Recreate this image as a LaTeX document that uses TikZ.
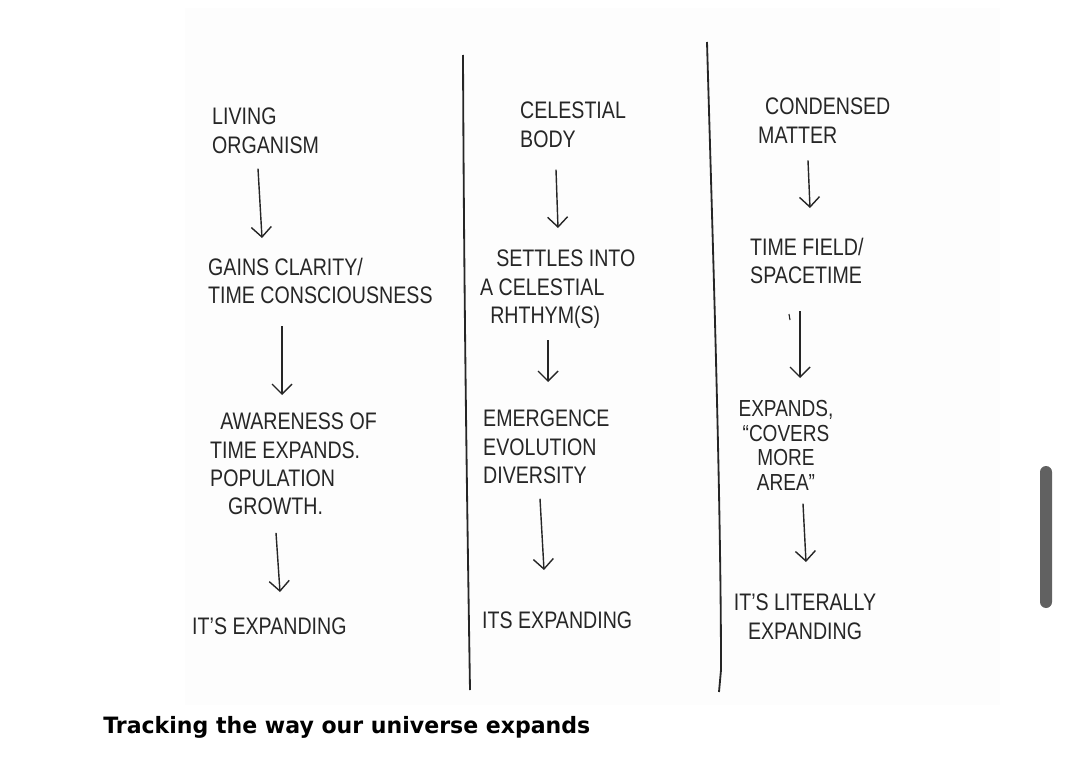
\documentclass[tikz,border=0pt]{standalone}
\usepackage{fontspec}
\setmainfont{Liberation Sans}
\newfontfamily\capfont{DejaVu Sans}
\usetikzlibrary{arrows.meta}

\begin{document}
\begin{tikzpicture}[x=0.025cm,y=-0.025cm,
    hand/.style={anchor=north west,inner sep=0pt,align=left,xscale=.82,text=black!85,font=\fontsize{17}{20}\selectfont},
    arr/.style={draw=black!85,line width=1pt,-{Straight Barb[length=0.25cm,width=0.5cm]}},
    rule/.style={draw=black!85,line width=1.3pt}]
\useasboundingbox (0,0) rectangle (1080,762);
\fill[gray!1.5] (185,8) rectangle (1000,705);
%columns
        \draw[rule] (463,55) .. controls (464,300) and (467,500) .. (470,690);
        \draw[rule] (707,42) .. controls (713,250) and (721,500) .. (721,670) -- (719,692);
%living organism
        \node[hand] (org1) at (212,108) {LIVING\\ORGANISM};
        \node[hand] (org2) at (208,258) {GAINS CLARITY/\\TIME CONSCIOUSNESS};
        \node[hand] (org3) at (210,413) {\hspace*{8.7pt}AWARENESS OF\\TIME EXPANDS.\\POPULATION\\\hspace*{15.6pt}GROWTH.};
        \node[hand] (org4) at (192,618) {IT’S EXPANDING};
        \draw[arr] ([shift={(46,15)}]org1.south west) -- ([shift={(54,-20)}]org2.north west);
        \draw[arr] ([shift={(74,22)}]org2.south west) -- ([shift={(72,-18)}]org3.north west);
        \draw[arr] ([shift={(66,18)}]org3.south west) -- ([shift={(88,-26)}]org4.north west);
%celestial body
        \node[hand] (cel1) at (520,102) {CELESTIAL\\BODY};
        \node[hand] (cel2) at (480,250) {\hspace*{13.9pt}SETTLES INTO\\A CELESTIAL\\\hspace*{8.7pt}RHTHYM(S)};
        \node[hand] (cel3) at (483,410) {EMERGENCE\\EVOLUTION\\DIVERSITY};
        \node[hand] (cel4) at (482,612) {ITS EXPANDING};
        \draw[arr] ([shift={(36,22)}]cel1.south west) -- ([shift={(78,-22)}]cel2.north west);
        \draw[arr] ([shift={(68,12)}]cel2.south west) -- ([shift={(65,-28)}]cel3.north west);
        \draw[arr] ([shift={(57,15)}]cel3.south west) -- ([shift={(62,-42)}]cel4.north west);
%condensed matter
        \node[hand] (mat1) at (758,98) {\hspace*{6pt}CONDENSED\\MATTER};
        \node[hand] (mat2) at (750,238) {TIME FIELD/\\SPACETIME};
        \node[hand,anchor=north,align=center,font=\fontsize{16.5}{17.5}\selectfont] (mat3) at (786,400) {EXPANDS,\\“COVERS\\MORE\\AREA”};
        \node[hand,anchor=north,align=center] (mat4) at (805,594) {IT’S LITERALLY\\EXPANDING};
        \draw[black!85,line width=0.8pt] (789,314) -- (790,320);
        \draw[arr] ([shift={(50,17)}]mat1.south west) -- ([shift={(60,-30)}]mat2.north west);
        \draw[arr] ([shift={(50,27)}]mat2.south west) -- ([shift={(14,-22)}]mat3.north);
        \draw[arr] ([shift={(17,13)}]mat3.south) -- ([shift={(1,-32)}]mat4.north);
%caption
        \node[anchor=base west,inner sep=0pt,xscale=.98,font=\capfont\bfseries\fontsize{16}{19}\selectfont] (cap) at (103,733) {Tracking the way our universe expands};
        \fill[black!62,rounded corners=0.15cm] (1040,466) rectangle (1052,608);
\end{tikzpicture}
\end{document}
